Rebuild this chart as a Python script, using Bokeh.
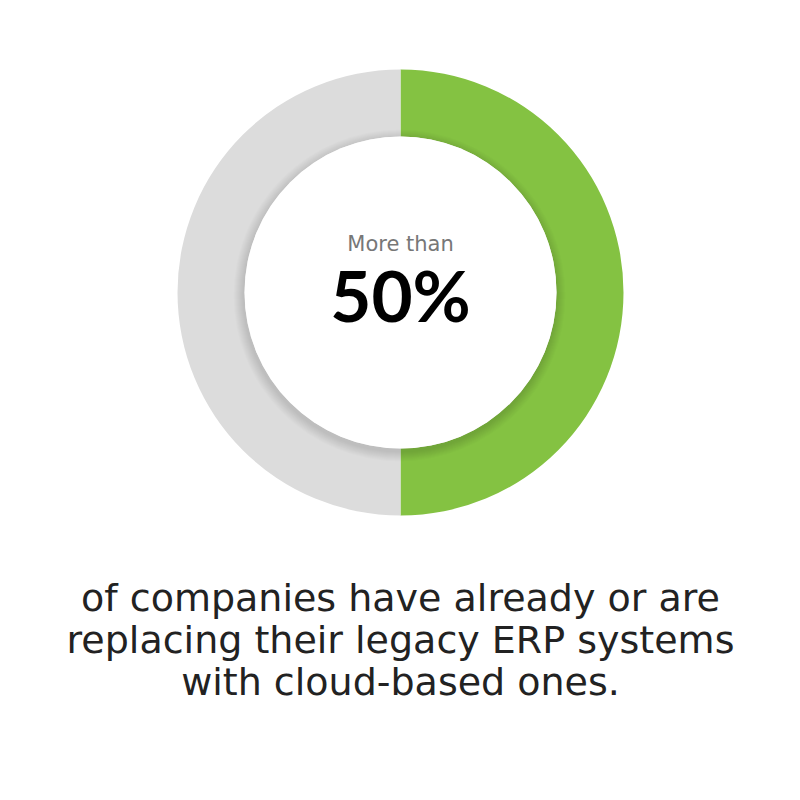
import numpy as np
from bokeh.plotting import figure
from bokeh.models import ColumnDataSource, Range1d
from bokeh.core.properties import value
from bokeh.embed import file_html
from bokeh.resources import INLINE

# Share of companies moving their ERP to the cloud
segments = ["Cloud-based ERP", "Other"]
shares = [50, 50]
colors = ["#84c242", "#dcdcdc"]

headline_prefix = "More than"
caption_lines = [
    "of companies have already or are",
    "replacing their legacy ERP systems",
    "with cloud-based ones.",
]

W = H = 800
p = figure(width=W, height=H, output_backend="svg", toolbar_location=None,
           x_range=Range1d(0, W), y_range=Range1d(0, H),
           min_border=0, background_fill_color="white", border_fill_color="white")
p.axis.visible = False
p.grid.visible = False
p.outline_line_color = None

cx, cy = 400, 800 - 292
r_out, r_in = 223, 156

# Wedge angles: start at 12 o'clock and run clockwise
frac = np.array(shares, dtype=float) / sum(shares)
ends = np.pi / 2 - 2 * np.pi * np.cumsum(frac)
starts = np.concatenate([[np.pi / 2], ends[:-1]])
src = ColumnDataSource(dict(segment=segments, start=starts, end=ends, color=colors))
p.annular_wedge(x=cx, y=cy, inner_radius=r_in, outer_radius=r_out,
                start_angle="start", end_angle="end", direction="clock",
                fill_color="color", line_color=None, source=src)

# Faint drop shadow under the inner disc
for k in range(10, 0, -1):
    p.circle(x=cx - 1, y=cy - 3, radius=r_in + k, fill_color="#000000",
             fill_alpha=0.012, line_color=None)
p.circle(x=cx, y=cy, radius=r_in, fill_color="white", line_color=None)

# Centre labels
p.text(x=[cx], y=[800 - 243], text=[headline_prefix], text_align="center",
       text_baseline="middle", text_font=value("DejaVu Sans"), text_font_size="21px",
       text_color="#777777")
p.text(x=[cx], y=[800 - 294], text=[f"{shares[0]}%"], text_align="center",
       text_baseline="middle", text_font=value("Lato"), text_font_size="71px",
       text_font_style="bold", text_color="#000000")

# Caption below the ring
centres = [597, 639, 681]
p.text(x=[cx] * 3, y=[800 - c for c in centres], text=caption_lines,
       text_align="center", text_baseline="middle", text_font=value("DejaVu Sans"),
       text_font_size="38px", text_color="#222222")

open("out.html", "w").write(file_html(p, INLINE))
